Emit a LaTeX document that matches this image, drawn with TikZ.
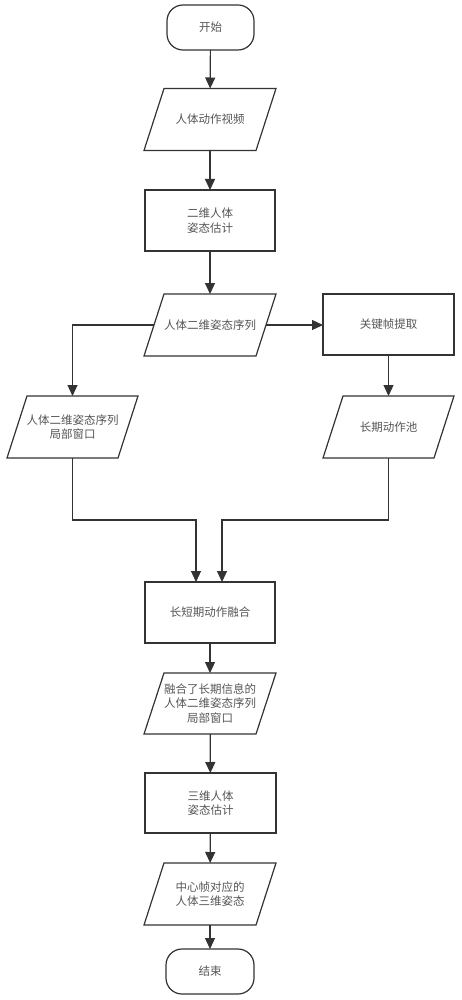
\documentclass[tikz,border=0pt]{standalone}
\usepackage{fontspec}
\setmainfont{Noto Sans CJK SC}
\usetikzlibrary{arrows.meta,calc}
\definecolor{linec}{HTML}{333333}
\definecolor{textc}{HTML}{555555}
\tikzset{
  base/.style={draw=linec, line width=1.2pt, text=textc, align=center, inner sep=0pt, outer sep=0pt,
    font=\fontsize{11.5}{14.5}\selectfont},
  procbox/.style={base, rectangle, minimum width=130pt, minimum height=61pt},
  iobox/.style={base, rectangle, draw=none, minimum width=112pt, minimum height=62pt,
    append after command={\pgfextra{\draw[draw=linec, line width=1.2pt, line join=miter]
      ($(\tikzlastnode.north west)+(10,0)$) -- ($(\tikzlastnode.north east)+(10,0)$) --
      ($(\tikzlastnode.south east)+(-10,0)$) -- ($(\tikzlastnode.south west)+(-10,0)$) -- cycle;}}},
  termbox/.style={base, rectangle, rounded corners=16pt, minimum width=87pt, minimum height=45pt},
  arr/.style={draw=linec, line width=1.2pt, -{Triangle[length=11pt,width=10pt]}}
}
\begin{document}
\begin{tikzpicture}[x=1pt,y=-1pt]
\useasboundingbox (0,0) rectangle (461,1000);
\node[termbox] (start) at (210.5,27.5) {开始};
\node[iobox] (video) at (210,119.5) {人体动作视频};
\node[procbox] (pose2d) at (210,220.5) {二维人体\\姿态估计};
\node[iobox] (seq) at (210,325) {人体二维姿态序列};
\node[procbox, minimum width=131pt] (key) at (388.5,324.5) {关键帧提取};
\node[iobox, minimum width=111pt] (local) at (72.5,427) {人体二维姿态序列\\局部窗口};
\node[iobox, minimum width=111pt] (pool) at (388.5,427) {长期动作池};
\node[procbox] (fuse) at (210,612.5) {长短期动作融合};
\node[iobox, minimum height=61pt] (fused) at (210,703.5) {融合了长期信息的\\人体二维姿态序列\\局部窗口};
\node[procbox, minimum width=131pt, minimum height=60pt] (pose3d) at (210.5,803) {三维人体\\姿态估计};
\node[iobox] (center) at (210,894) {中心帧对应的\\人体三维姿态};
\node[termbox, minimum width=88pt] (end) at (210,971.5) {结束};
\coordinate (jl) at (196,520);
\coordinate (jr) at (222,520);
\draw[arr] (start) -- (video);
\draw[arr] (video) -- (pose2d);
\draw[arr] (pose2d) -- (seq);
\draw[arr] (seq.west) -| (local.north);
\draw[arr] (seq.east) -- (seq.east -| key.west);
\draw[arr] (key) -- (pool);
\draw[arr] (local.south) |- (jl) -- (fuse.north -| jl);
\draw[arr] (pool.south) |- (jr) -- (fuse.north -| jr);
\draw[arr] (fuse) -- (fused);
\draw[arr] (fused) -- (pose3d);
\draw[arr] (pose3d) -- (center);
\draw[arr] (center) -- (end);
\end{tikzpicture}
\end{document}
